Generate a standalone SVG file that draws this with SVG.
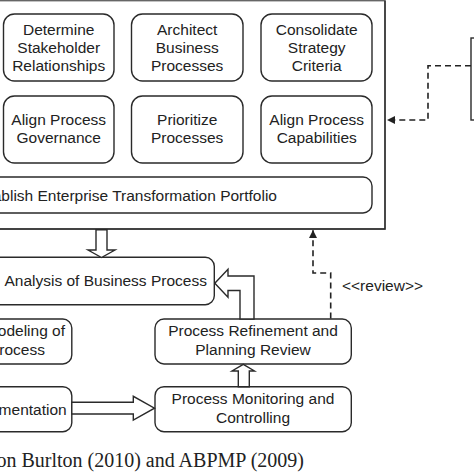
<svg xmlns="http://www.w3.org/2000/svg" width="474" height="474" viewBox="0 0 474 474">
<defs>
<style>
.box{fill:#fff;stroke:#2a2a2a;stroke-width:1.4}
.t{font-family:"Liberation Sans",Arial,sans-serif;font-size:15.5px;fill:#222;text-anchor:middle}
.hol{fill:#fff;stroke:#2a2a2a;stroke-width:1.4;stroke-linejoin:miter}
.dash{fill:none;stroke:#222;stroke-width:1.6;stroke-dasharray:6 4}
.cap{font-family:"Liberation Serif","Times New Roman",serif;font-size:20px;fill:#222}
</style>
<marker id="ah" viewBox="0 0 10 10" refX="10" refY="5" markerWidth="5" markerHeight="5" markerUnits="strokeWidth" orient="auto">
<path d="M0,0 L10,5 L0,10 z" fill="#222"/>
</marker>
</defs>
<rect width="474" height="474" fill="#fff"/>

<g id="outer">
<rect class="box" x="-6" y="0.7" width="391" height="228.3" style="stroke:#666"/>
<path d="M-6,229 H385 V0.7" fill="none" stroke="#2a2a2a" stroke-width="1.4"/>
</g>

<g id="n1">
<rect class="box" x="3.5" y="14" width="110.5" height="67" rx="11"/>
<text class="t" x="58.7" y="34.5">Determine</text>
<text class="t" x="58.7" y="53">Stakeholder</text>
<text class="t" x="58.7" y="71.3">Relationships</text>
</g>
<g id="n2">
<rect class="box" x="131.5" y="14" width="111.5" height="67" rx="11"/>
<text class="t" x="187.2" y="34.5">Architect</text>
<text class="t" x="187.2" y="53">Business</text>
<text class="t" x="187.2" y="71.3">Processes</text>
</g>
<g id="n3">
<rect class="box" x="261" y="14" width="111" height="67" rx="11"/>
<text class="t" x="316.7" y="34.5">Consolidate</text>
<text class="t" x="316.7" y="53">Strategy</text>
<text class="t" x="316.7" y="71.3">Criteria</text>
</g>
<g id="n4">
<rect class="box" x="3.5" y="96" width="110.5" height="67" rx="11"/>
<text class="t" x="58.7" y="124.5">Align Process</text>
<text class="t" x="58.7" y="143">Governance</text>
</g>
<g id="n5">
<rect class="box" x="131.5" y="96" width="111.5" height="67" rx="11"/>
<text class="t" x="187.2" y="124.5">Prioritize</text>
<text class="t" x="187.2" y="143">Processes</text>
</g>
<g id="n6">
<rect class="box" x="261" y="96" width="111" height="67" rx="11"/>
<text class="t" x="316.7" y="124.5">Align Process</text>
<text class="t" x="316.7" y="143">Capabilities</text>
</g>
<g id="n7">
<rect class="box" x="-10" y="177" width="382" height="36" rx="9"/>
<text class="t" x="277" y="200.5" style="text-anchor:end">Establish Enterprise Transformation Portfolio</text>
</g>

<g id="n8">
<rect class="box" x="471" y="38" width="20" height="82"/>
</g>

<g id="n9">
<rect class="box" x="-10" y="257.3" width="224.3" height="47.4" rx="9"/>
<text class="t" x="105.7" y="286">Analysis of Business Process</text>
</g>
<g id="n10">
<rect class="box" x="-20" y="319" width="91.8" height="45" rx="9"/>
<text class="t" x="65" y="335.8" style="text-anchor:end">Modeling of</text>
<text class="t" x="45" y="354.8" style="text-anchor:end">Process</text>
</g>
<g id="n11">
<rect class="box" x="-20" y="386.7" width="91.8" height="45" rx="9"/>
<text class="t" x="66.7" y="414.5" style="text-anchor:end">Implementation</text>
</g>
<g id="n12">
<rect class="box" x="155" y="319" width="196.3" height="45" rx="9"/>
<text class="t" x="253" y="335.8">Process Refinement and</text>
<text class="t" x="253" y="354.8">Planning Review</text>
</g>
<g id="n13">
<rect class="box" x="155" y="386.7" width="196.3" height="45" rx="9"/>
<text class="t" x="253" y="404.3">Process Monitoring and</text>
<text class="t" x="253" y="422.6">Controlling</text>
</g>

<g id="connectors">
<polygon class="hol" points="96,229.7 107,229.7 107,250 115,250 101.5,257.5 88,250 96,250"/>
<polygon class="hol" points="214.8,283.2 228,269.2 228,276 254,276 254,319 240,319 240,290.5 228,290.5 228,297.2"/>
<polygon class="hol" points="243.3,364.3 254.5,371 249.3,371 249.3,386.7 238.3,386.7 238.3,371 232,371"/>
<polygon class="hol" points="71.8,402.3 133.3,402.3 133.3,396.3 154.5,408.2 133.3,420 133.3,414 71.8,414"/>
<path class="dash" d="M471,65.7 H428 V120 H387" marker-end="url(#ah)"/>
<path class="dash" d="M330.7,318.5 V273 H313 V230" marker-end="url(#ah)"/>
<text class="t" x="342" y="291" style="text-anchor:start">&lt;&lt;review&gt;&gt;</text>
</g>

<text class="cap" x="304" y="467.3" text-anchor="end">on Burlton (2010) and ABPMP (2009)</text>
</svg>
